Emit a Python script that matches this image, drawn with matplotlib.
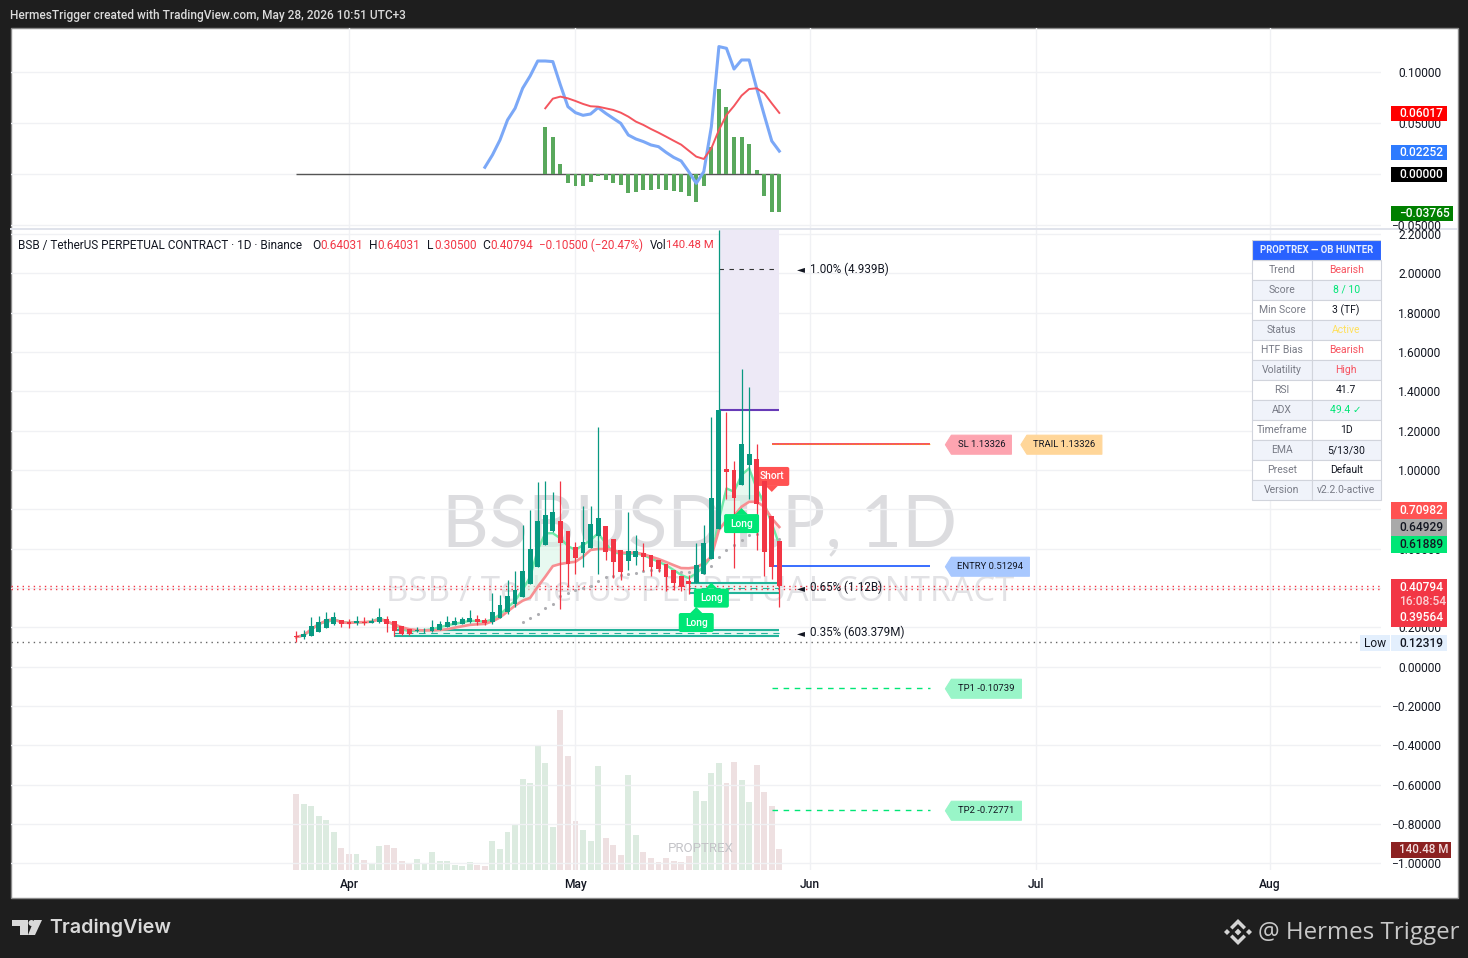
import matplotlib
matplotlib.use('Agg')
import matplotlib.dates as mdates
import matplotlib.pyplot as plt
import numpy as np
import pandas as pd
from matplotlib.patches import Circle, FancyBboxPatch, Polygon, Rectangle

plt.rcParams['font.family'] = ['Roboto', 'DejaVu Sans']

W, H = 1468, 958

dates = pd.date_range('2026-03-25', periods=65)

opens = [.157, .149, .155, .176, .196, .217, .235, .227, .220, .228, .223, .227, .240, .232, .206, .189,
         .183, .184, .181, .186, .201, .211, .217, .227, .242, .237, .227, .247, .278, .318, .354, .420,
         .506, .618, .689, .740, .689, .608, .577, .603, .664, .715, .649, .593, .537, .557, .577, .567,
         .542, .522, .491, .460, .435, .425, .471, .547, .699, 1.004, .999, .923, 1.025, 1.056, .943, .766,
         .64031]
highs = [.182, .186, .252, .257, .278, .278, .235, .242, .257, .252, .247, .298, .257, .232, .206, .189,
         .201, .196, .237, .232, .257, .252, .252, .288, .262, .247, .374, .364, .440, .486, .720, .796,
         .938, .943, .888, .943, .689, .633, .816, .816, 1.218, .715, .649, .593, .786, .669, .628, .567,
         .542, .522, .491, .460, .466, .628, .720, 1.269, 2.22, 1.294, 1.045, 1.513, 1.421, 1.132, .943, .766,
         .64031]
lows = [.123, .142, .155, .176, .196, .211, .201, .196, .211, .211, .222, .222, .176, .155, .161, .161,
        .176, .171, .178, .186, .201, .211, .217, .222, .211, .211, .217, .247, .268, .303, .354, .420,
        .506, .618, .684, .293, .405, .471, .506, .603, .471, .542, .450, .440, .491, .516, .486, .460,
        .481, .384, .389, .384, .369, .425, .471, .547, .699, .852, .501, .923, .852, .593, .460, .445,
        .30500]
closes = [.152, .166, .208, .227, .242, .252, .215, .217, .232, .220, .234, .252, .217, .181, .166, .166,
          .188, .188, .201, .217, .227, .232, .242, .247, .227, .220, .278, .313, .359, .389, .486, .598,
          .740, .771, .786, .628, .522, .552, .633, .725, .755, .582, .532, .481, .588, .588, .557, .506,
          .496, .455, .425, .405, .420, .516, .628, .857, 1.304, .989, .857, 1.132, 1.081, .827, .582, .506,
          .40794]

fast_ema = [.150, .158, .185, .220, .225, .240, .228, .223, .226, .225, .230, .245, .232, .210, .190, .180,
            .183, .185, .190, .200, .210, .218, .225, .233, .232, .228, .240, .265, .300, .335, .390, .457,
            .593, .678, .678, .652, .613, .593, .618, .643, .678, .627, .579, .576, .572, .576, .567, .550,
            .533, .516, .491, .466, .450, .474, .508, .559, .745, .906, .889, .974, 1.008, .906, .830, .728,
            .61889]
slow_ema = [.150, .160, .190, .215, .235, .240, .225, .222, .225, .226, .228, .240, .230, .215, .200, .190,
            .186, .184, .184, .186, .190, .198, .205, .212, .215, .217, .230, .250, .280, .310, .335, .350,
            .406, .457, .511, .522, .528, .533, .559, .593, .598, .598, .593, .579, .579, .579, .572, .559,
            .547, .532, .516, .501, .500, .505, .525, .559, .694, .745, .766, .813, .838, .838, .813, .754,
            .70982]
trail_dots = [.228, .245, .265, .296, .318, .359, .372, .390, .398, .411, .435, .454, .462, .466, .471, .474,
              .486, .491, .491, .491, .485, .482, .479, .475, .474, .511, .559, .591, .616, .644, .669, .675,
              .668, .660, .64929]

volumes = [508, 442, 428, 361, 335, 254, 147, 107, 107, 67, 42, 161, 167, 147, 60, 47,
           74, 42, 120, 60, 60, 33, 27, 54, 33, 27, 194, 140, 254, 308, 609, 582,
           836, 716, 288, 1070, 763, 328, 268, 194, 696, 214, 167, 100, 636, 234, 120, 80,
           54, 80, 60, 54, 94, 529, 462, 649, 716, 582, 723, 602, 455, 702, 522, 428,
           140.48]

macd_line = [.0066, .0187, .0335, .0532, .0647, .0844, .0966, .1113, .1113, .1107, .0877, .0663, .0604, .0578,
             .0591, .0654, .0598, .0548, .0499, .0384, .0345, .0319, .0286, .0269, .0213, .0164, .0128, .0023,
             -.0092, .0023, .0466, .1255, .1238, .1034, .1123, .1123, .0844, .0581, .0325, .02252]
signal_line = [.0647, .0742, .0762, .0745, .0719, .0690, .0667, .0663, .0647, .0631, .0604, .0565, .0516, .0483,
               .0443, .0407, .0368, .0328, .0289, .0230, .0171, .0148, .0253, .0433, .0581, .0670, .0772, .0837,
               .0844, .0795, .0696, .06017]
macd_hist = [.0463, .0365, .0099, -.0085, -.0115, -.0115, -.0076, -.0016, -.0056, -.0085, -.0105, -.0184, -.0174,
             -.0154, -.0154, -.0144, -.0154, -.0164, -.0174, -.0213, -.0273, -.0115, .0266, .0837, .0660, .0365,
             .0365, .0296, .0039, -.0213, -.0371, -.03765]

price_ticks = [-1.0, -.8, -.6, -.4, -.2, 0.0, .2, .4, .6, .8, 1.0, 1.2, 1.4, 1.6, 1.8, 2.0, 2.2]
macd_ticks = [-.05, 0.0, .05, .10]
month_ticks = ['2026-04-01', '2026-05-01', '2026-06-01', '2026-07-01', '2026-08-01']
month_labels = ['Apr', 'May', 'Jun', 'Jul', 'Aug']

table_rows = [
    ['Trend', 'Bearish', '#f7525f'], ['Score', '8 / 10', '#00e676'], ['Min Score', '3 (TF)', '#131722'],
    ['Status', 'Active', '#ffe05c'], ['HTF Bias', 'Bearish', '#f7525f'], ['Volatility', 'High', '#f7525f'],
    ['RSI', '41.7', '#131722'], ['ADX', '49.4 ✓', '#00e676'], ['Timeframe', '1D', '#131722'],
    ['EMA', '5/13/30', '#131722'], ['Preset', 'Default', '#131722'], ['Version', 'v2.2.0-active', '#787b86'],
]

GRID = '#f0f1f4'
UP = '#089981'
DOWN = '#f23645'
TEAL = '#22b39a'


def num(d):
    return mdates.date2num(pd.Timestamp(d))


def px_axes(left, top, right, bottom, **kw):
    return fig.add_axes([left / W, 1 - bottom / H, (right - left) / W, (bottom - top) / H], **kw)


def to_px(ax, d, v):
    x, y = ax.transData.transform((num(d), v))
    return x, H - y


def price_tag(ax, v, text, color, fg, dy=0, width=56, height=15, size=8.64, weight='medium'):
    y = to_px(ax, dates[0], v)[1] + dy + 1
    ov.add_patch(Rectangle((1391, y - height / 2), width, height, fc=color, ec='none'))
    ov.text(1399, y, text, color=fg, fontsize=size, va='center', ha='left', fontweight=weight)


def level_tag(d, v, text, color, width):
    x, y = to_px(ax, d, v)
    y += 1
    ov.add_patch(Polygon([(x, y), (x + 6, y - 9.5), (x + 6 + width, y - 9.5), (x + 6 + width, y + 9.5), (x + 6, y + 9.5)],
                         fc=color, ec=color, lw=.8, joinstyle='round'))
    ov.text(x + 6 + width / 2, y, text, color='#131722', fontsize=6.8, ha='center', va='center')


def signal_label(d, v, text, color, below, z):
    x, y = to_px(ax, d, v)
    sign = 1 if below else -1
    ax.add_patch(Polygon([(x, y), (x - 6, y + 6 * sign), (x + 6, y + 6 * sign)], fc=color, ec='none',
                         transform=bg.transData, zorder=z, clip_on=False))
    ymid = y + sign * 15.5
    ax.add_patch(FancyBboxPatch((x - 17.5, ymid - 9.5), 35, 19, boxstyle='round,pad=0,rounding_size=2', fc=color, ec='none',
                                transform=bg.transData, zorder=z, clip_on=False))
    ax.text(x, ymid, text, color='white', fontsize=7.4, fontweight='medium', ha='center', va='center',
            transform=bg.transData, zorder=4.5)


fig = plt.figure(figsize=(W / 100, H / 100), dpi=100, facecolor='#1e1e1e')

bg = px_axes(0, 0, W, H, zorder=-5)
bg.set_xlim(0, W)
bg.set_ylim(H, 0)
bg.axis('off')
bg.add_patch(Rectangle((10.5, 27.5), 1447, 870, fc='white', ec='#8a8a8a', lw=1))
bg.plot([11, 1457], [229, 229], color='#e0e3eb', lw=1.4)

x_left = num('2026-04-01') - 44.77
x_right = num('2026-04-01') + 136.7
x = mdates.date2num(dates)

# volume sits under the price pane with its own scale
ax_vol = px_axes(11, 230, 1381, 870, zorder=1, facecolor='none')
ax_vol.set_xlim(x_left, x_right)
ax_vol.set_ylim(0, 4281)
ax_vol.axis('off')
vol_colors = ['#dcebe0' if c >= o else '#eee0e1' for o, c in zip(opens, closes)]
ax_vol.bar(x, volumes, width=.78, color=vol_colors)

ax = px_axes(11, 230, 1381, 870, zorder=2, facecolor='none')
ax.set_xlim(x_left, x_right)
ax.set_ylim(-1.034, 2.2197)
ax.set_yticks(price_ticks)
ax.yaxis.tick_right()
ax.yaxis.set_major_formatter(lambda v, pos: f'{v:.5f}'.replace('-', '−'))
ax.set_xticks([num(m) for m in month_ticks], month_labels)
ax.tick_params(axis='y', length=0, pad=43.4, labelsize=8.64, labelcolor='#131722')
for lab in ax.get_yticklabels():
    lab.set_ha('right')
ax.tick_params(axis='x', length=0, pad=6, labelsize=8.64, labelcolor='#131722')
for lab in ax.get_xticklabels():
    lab.set_fontweight('medium')
ax.grid(True, color=GRID, lw=1)
ax.set_axisbelow(True)
for s in ax.spines.values():
    s.set_visible(False)

ax.text(700, 527, 'BSBUSDT.P, 1D', family='Lato', fontsize=52, color='#dcdcdf', ha='center', va='center',
        transform=bg.transData, zorder=0)
ax.text(700, 592, 'BSB / TetherUS PERPETUAL CONTRACT', family='Open Sans', fontsize=25, color='#e2e2e5', ha='center',
        va='center', transform=bg.transData, zorder=0)
ax.text(701, 848, 'PROPTREX', fontsize=9.5, color='#c4c4c8', ha='center', va='center', transform=bg.transData, zorder=6)

# purple box above the spike candle
ax.add_patch(Rectangle((num('2026-05-20'), 1.304), num('2026-05-28') - num('2026-05-20'), 2.2197 - 1.304,
                       fc='#ede9f6', ec='none', zorder=1))
ax.hlines(1.304, num('2026-05-20'), num('2026-05-28'), color='#673ab7', lw=1.5, zorder=2)
ax.hlines(2.02, num('2026-05-20'), num('2026-05-28'), color='#333333', lw=.8, ls=(0, (4, 5)), zorder=2)

# order block zones
for start, top, bottom in [('2026-04-07', .186, .155), ('2026-05-16', .427, .373)]:
    ax.add_patch(Rectangle((num(start), bottom), num('2026-05-28') - num(start), top - bottom, fc='#e8f7f3', ec='none', zorder=1.5))
    ax.hlines([top, bottom], num(start), num('2026-05-28'), color=TEAL, lw=1.5, zorder=2)
    ax.hlines((top + bottom) / 2, num(start), num('2026-05-28'), color=TEAL, lw=.8, ls=(0, (6, 5)), zorder=2)

ax.hlines(.40794, x_left, x_right, color=DOWN, lw=1, ls=(0, (1, 3)), zorder=2)
ax.hlines(.39564, x_left, x_right, color=DOWN, lw=1, ls=(0, (1, 3)), zorder=2)
ax.hlines(.12319, x_left, x_right, color='#666666', lw=1, ls=(0, (1, 3)), zorder=2)

f = np.array(fast_ema)
s = np.array(slow_ema)
ax.fill_between(x, f, s, where=f >= s, interpolate=True, color='#d8f5e6', alpha=.6, lw=0, zorder=2)
ax.fill_between(x, f, s, where=f < s, interpolate=True, color='#fde0e0', alpha=.6, lw=0, zorder=2)
ax.plot(x, fast_ema, color='#6fe9a8', lw=1.7, zorder=2.5)
ax.plot(x, slow_ema, color='#f78f92', lw=1.9, zorder=2.6)
ax.scatter(x[-len(trail_dots):], trail_dots, s=5, color='#aeaeb2', lw=0, zorder=2.7)

signal_label('2026-05-27', .888, 'Short', '#ff5252', False, 2.8)

up = np.array(closes) >= np.array(opens)
colors = [UP if u else DOWN for u in up]
ax.vlines(x, lows, highs, colors=colors, lw=.9, zorder=3)
ax.bar(x, np.abs(np.array(closes) - np.array(opens)), bottom=np.minimum(opens, closes), width=.64, color=colors, zorder=3.1)

signal_label('2026-05-23', .806, 'Long', '#00e676', True, 4)
signal_label('2026-05-19', .427, 'Long', '#00e676', True, 4)
signal_label('2026-05-17', .303, 'Long', '#00e676', True, 4)

# trade levels
ax.hlines(1.13326, num('2026-05-27'), num('2026-06-17'), color=DOWN, lw=1.2, zorder=2)
ax.hlines(1.13326, num('2026-05-27'), num('2026-06-17'), color='#ff9800', lw=.8, ls=(0, (1, 2)), zorder=2.1)
ax.hlines(.51294, num('2026-05-27'), num('2026-06-17'), color='#2962ff', lw=1.3, zorder=2)
ax.hlines([-.10739, -.72771], num('2026-05-27'), num('2026-06-17'), color='#00e676', lw=1, ls=(0, (4, 4)), zorder=2)

ax_macd = px_axes(11, 28, 1381, 228, zorder=2, facecolor='none')
ax_macd.set_xlim(x_left, x_right)
ax_macd.set_ylim(-.0532, .1438)
ax_macd.set_yticks(macd_ticks)
ax_macd.yaxis.tick_right()
ax_macd.yaxis.set_major_formatter(lambda v, pos: f'{v:.5f}'.replace('-', '−'))
ax_macd.set_xticks([num(m) for m in month_ticks])
ax_macd.tick_params(axis='x', length=0, labelbottom=False)
ax_macd.tick_params(axis='y', length=0, pad=43.4, labelsize=8.64, labelcolor='#131722')
for lab in ax_macd.get_yticklabels():
    lab.set_ha('right')
ax_macd.grid(True, color=GRID, lw=1)
ax_macd.set_axisbelow(True)
for sp in ax_macd.spines.values():
    sp.set_visible(False)
ax_macd.hlines(0, x[0], x[-1], color='#555555', lw=1, zorder=2)
ax_macd.bar(x[-len(macd_hist):], macd_hist, width=.52, color='#59a85c', zorder=2.2)
ax_macd.plot(x[-len(macd_line):], macd_line, color='#7ba8f7', lw=2.2, zorder=3)
ax_macd.plot(x[-len(signal_line):], signal_line, color='#f4555e', lw=1.4, zorder=3.1)

fig.canvas.draw()

ov = px_axes(0, 0, W, H, zorder=20, facecolor='none')
ov.set_xlim(0, W)
ov.set_ylim(H, 0)
ov.axis('off')

# right scale tags, stacked where the values sit too close together
price_tag(ax_macd, .06017, '0.06017', '#ff0000', 'white')
price_tag(ax_macd, .02252, '0.02252', '#2e7bff', 'white')
price_tag(ax_macd, 0, '0.00000', '#000000', 'white')
price_tag(ax_macd, -.03765, '−0.03765', '#008000', 'white', width=62)
price_tag(ax, .70982, '0.70982', '#ff5252', 'white', dy=-17, height=17)
price_tag(ax, .64929, '0.64929', '#a9a9a9', '#131722', dy=-12, height=17)
price_tag(ax, .61889, '0.61889', '#00e676', '#131722', dy=-1, height=17)
price_tag(ax, .40794, '0.40794', '#f23645', 'white', height=17)
price_tag(ax, .40794, '16:08:54', '#f23645', '#fbd0d4', dy=14, height=15)
price_tag(ax, .40794, '0.39564', '#f23645', 'white', dy=30.5, height=19)
price_tag(ax, .12319, '0.12319', '#e3effd', '#131722', height=16)
low_y = to_px(ax, dates[0], .12319)[1] + 1
ov.add_patch(Rectangle((1360, low_y - 8), 29.5, 16, fc='#e3effd', ec='none'))
ov.text(1375, low_y, 'Low', color='#131722', fontsize=8.64, ha='center', va='center')
vol_y = H - ax_vol.transData.transform((0, 140.48))[1] + 1
ov.add_patch(Rectangle((1391, vol_y - 8), 60, 16, fc='#8c2121', ec='none'))
ov.text(1399, vol_y, '140.48 M', color='#f2dede', fontsize=8.4, ha='left', va='center', fontweight='medium')

level_tag('2026-06-19', 1.13326, 'SL 1.13326', '#fda4b0', 60)
level_tag('2026-06-29', 1.13326, 'TRAIL 1.13326', '#ffd699', 75)
level_tag('2026-06-19', .51294, 'ENTRY 0.51294', '#a8c8ff', 78)
level_tag('2026-06-19', -.10739, 'TP1 -0.10739', '#99f5c8', 70)
level_tag('2026-06-19', -.72771, 'TP2 -0.72771', '#99f5c8', 70)

for v, txt in [(2.02, '1.00% (4.939B)'), (.402, '0.65% (1.12B)'), (.173, '0.35% (603.379M)')]:
    y = to_px(ax, dates[0], v)[1] + .2
    ov.text(797, y, '◄', color='#131722', fontsize=7.5, ha='left', va='center', family='DejaVu Sans')
    ov.text(810, y, txt, color='#131722', fontsize=8.4, ha='left', va='center')

# legend line
ov.text(18, 245, 'BSB / TetherUS PERPETUAL CONTRACT · 1D · Binance', color='#131722', fontsize=8.5, va='center')
RED = '#f23645'
for lx, txt, col, size in [(312, 'O', '#131722', 8.64), (320, '0.64031', RED, 8.5), (369, 'H', '#131722', 8.64), (377, '0.64031', RED, 8.5),
                           (427, 'L', '#131722', 8.64), (434, '0.30500', RED, 8.5), (482, 'C', '#131722', 8.64), (490, '0.40794', RED, 8.5),
                           (539, '−0.10500 (−20.47%)', RED, 8.4), (650, 'Vol', '#131722', 8.3), (666, '140.48 M', RED, 8.2)]:
    ov.text(lx, 245, txt, color=col, fontsize=size, va='center')

ov.text(10, 15, 'HermesTrigger created with TradingView.com, May 28, 2026 10:51 UTC+3', color='#dcdcdc', fontsize=8.52,
        va='center', fontweight='medium')

# footer logos
LOGO = '#d9d9d9'
ov.add_patch(Polygon([(12, 920), (28, 920), (28, 935), (20, 935), (20, 926), (12, 926)], fc=LOGO, ec='none'))
ov.add_patch(Circle((31.5, 923), 3, fc=LOGO, ec='none'))
ov.add_patch(Polygon([(34, 920), (42, 920), (35, 935), (28, 935)], fc=LOGO, ec='none'))
ov.text(49, 928, 'TradingView', color=LOGO, fontsize=14.2, family='Inter', fontweight='semibold', va='center')
for cx, cy, r in [(1227, 932, 3), (1249, 932, 3), (1238, 932, 3.4)]:
    ov.add_patch(Polygon([(cx - r, cy), (cx, cy - r), (cx + r, cy), (cx, cy + r)], fc='#d4d4d4', ec='none'))
ov.add_patch(Polygon([(1230, 927), (1238, 919), (1246, 927), (1243.5, 929.5), (1238, 924), (1232.5, 929.5)], fc='#d4d4d4', ec='none'))
ov.add_patch(Polygon([(1230, 937), (1238, 945), (1246, 937), (1243.5, 934.5), (1238, 940), (1232.5, 934.5)], fc='#d4d4d4', ec='none'))
ov.text(1258, 933, '@ Hermes Trigger', color='#c8c8c8', fontsize=17.35, family='Open Sans', va='center')

# status table
tb = px_axes(1252, 240, 1380.5, 500, zorder=21, facecolor='none')
tb.set_xlim(0, 1)
tb.set_ylim(0, 1)
tb.axis('off')
tb.add_patch(Rectangle((0, 12 / 13), 1, 1 / 13, fc='#2962ff', ec='#d1d4dc', lw=.8))
tb.text(.5, 12.5 / 13, 'PROPTREX — OB HUNTER', color='#e8eeff', fontsize=6.9, fontweight='bold', ha='center', va='center')
table = tb.table(cellText=[r[:2] for r in table_rows], cellLoc='center', colWidths=[.465, .535], bbox=[0, 0, 1, 12 / 13])
table.auto_set_font_size(False)
table.set_fontsize(7.5)
for (r, c), cell in table.get_celld().items():
    cell.set_edgecolor('#d1d4dc')
    cell.set_linewidth(.8)
    cell.set_facecolor('#f0f3fa' if r % 2 else 'white')
    cell.get_text().set_color(table_rows[r][2] if c == 1 else '#787b86')

fig.savefig('out.png', dpi=100, facecolor=fig.get_facecolor())
